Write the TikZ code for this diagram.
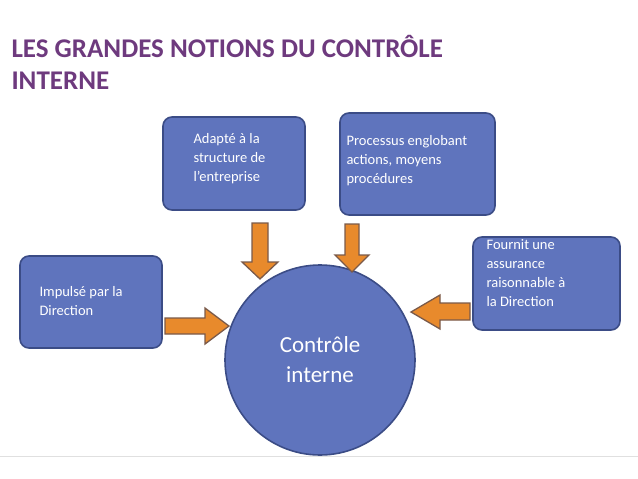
\documentclass[tikz,border=0pt]{standalone}
\usepackage{fontspec}
\setmainfont{Carlito}
\begin{document}
\begin{tikzpicture}[x=1pt,y=-1pt,
  box/.style={draw=boxborder,line width=1.6pt,fill=boxfill,rounded corners=9pt,text=white,font=\fontsize{14.5}{18}\selectfont,align=left,anchor=north west,inner sep=0pt},
  barrow/.style={draw=arrowborder,line width=1.3pt,fill=arrowfill,line join=miter}]
\definecolor{boxfill}{HTML}{5F74BD}
\definecolor{boxborder}{HTML}{3B4C86}
\definecolor{arrowfill}{HTML}{E88A2C}
\definecolor{arrowborder}{HTML}{7A5A4A}
\definecolor{titlecol}{HTML}{6E3A7E}
\useasboundingbox (0,0) rectangle (638,479);
\node[anchor=west,text=titlecol,font=\bfseries\fontsize{27}{32}\selectfont,align=left] (title) at (8,62) {LES GRANDES NOTIONS DU CONTRÔLE\\INTERNE};
\draw[black!12,line width=0.8pt] (0,456) -- (638,456);
% boxes
\draw[box] (20,256) rectangle (162,348);
\node[text=white,font=\fontsize{14.5}{19}\selectfont,align=left,anchor=north west] (b1) at (36,283) {Impulsé par la\\Direction};
\draw[box] (163,117) rectangle (305,210);
\node[text=white,font=\fontsize{14.5}{19}\selectfont,align=left,anchor=north west] (b2) at (190,130) {Adapté à la\\structure de\\l’entreprise};
\draw[box] (340,113) rectangle (495,215);
\node[text=white,font=\fontsize{14.5}{19}\selectfont,align=left,anchor=north west] (b3) at (343,132) {Processus englobant\\actions, moyens\\procédures};
\draw[box] (473,237) rectangle (620,330);
\node[text=white,font=\fontsize{14.5}{19}\selectfont,align=left,anchor=north west] (b4) at (483,236) {Fournit une\\assurance\\raisonnable à\\la Direction};
% circle
\node[circle,draw=boxborder,line width=1.6pt,fill=boxfill,minimum size=190pt,text=white,font=\fontsize{23}{30}\selectfont,align=center] (c) at (320,360) {Contrôle\\interne};
% arrows
\draw[barrow] (165,318) -- (205,318) -- (205,308) -- (229,326) -- (205,344) -- (205,334) -- (165,334) -- cycle;
\draw[barrow] (252,223) -- (268,223) -- (268,262) -- (278,262) -- (260,279) -- (242,262) -- (252,262) -- cycle;
\draw[barrow] (345,224) -- (359,224) -- (359,255) -- (369,255) -- (352,272) -- (335,255) -- (345,255) -- cycle;
\draw[barrow] (470,303) -- (440,303) -- (440,295) -- (411,312) -- (440,329) -- (440,320) -- (470,320) -- cycle;
\end{tikzpicture}
\end{document}
